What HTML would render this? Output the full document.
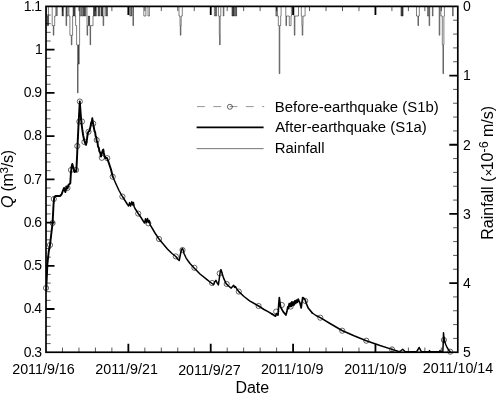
<!DOCTYPE html>
<html lang="en"><head><meta charset="utf-8"><title>Discharge and rainfall</title>
<style>html,body{margin:0;padding:0;background:#fff;}svg{display:block;}text{font-family:"Liberation Sans", Arial, sans-serif;fill:#000;}</style>
</head><body>
<svg width="497" height="393" viewBox="0 0 497 393">
<rect width="497" height="393" fill="#fff"/>
<defs><clipPath id="pa"><rect x="46" y="6.4" width="411.8" height="346.45"/></clipPath></defs>
<path d="M46 6.4 L46.6 6.4 L46.6 16.01 L47 16.01 L47 25.62 L47.6 25.62 L47.6 16.01 L48.1 16.01 L48.1 25.62 L48.5 25.62 L48.5 6.4 L52.2 6.4 L52.2 25.62 L53.3 25.62 L53.3 35.23 L53.8 35.23 L53.8 25.62 L54.7 25.62 L54.7 16.01 L55.8 16.01 L55.8 6.4 L56.9 6.4 L56.9 16.01 L56.95 16.01 L56.95 6.4 L62.1 6.4 L62.1 16.01 L62.6 16.01 L62.6 6.4 L62.8 6.4 L62.8 16.01 L63.3 16.01 L63.3 6.4 L66 6.4 L66 25.62 L66.6 25.62 L66.6 6.4 L66.8 6.4 L66.8 16.01 L67.9 16.01 L67.9 6.4 L68.9 6.4 L68.9 16.01 L69.9 16.01 L69.9 35.23 L71.3 35.23 L71.3 44.84 L71.9 44.84 L71.9 35.23 L72.6 35.23 L72.6 16.01 L73.2 16.01 L73.2 6.4 L73.4 6.4 L73.4 16.01 L74 16.01 L74 6.4 L74.2 6.4 L74.2 16.01 L74.8 16.01 L74.8 6.4 L75 6.4 L75 16.01 L75.6 16.01 L75.6 25.62 L76.6 25.62 L76.6 44.84 L77.5 44.84 L77.5 92.89 L78.1 92.89 L78.1 64.06 L78.5 64.06 L78.5 44.84 L78.7 44.84 L78.7 64.06 L79.2 64.06 L79.2 44.84 L79.6 44.84 L79.6 6.4 L80.2 6.4 L80.2 16.01 L81.2 16.01 L81.2 6.4 L81.8 6.4 L81.8 16.01 L82.8 16.01 L82.8 6.4 L83.3 6.4 L83.3 16.01 L83.9 16.01 L83.9 6.4 L84.2 6.4 L84.2 16.01 L84.8 16.01 L84.8 6.4 L85.1 6.4 L85.1 16.01 L85.8 16.01 L85.8 6.4 L87 6.4 L87 35.23 L87.6 35.23 L87.6 25.62 L88.4 25.62 L88.4 16.01 L88.8 16.01 L88.8 25.62 L89.2 25.62 L89.2 16.01 L89.6 16.01 L89.6 25.62 L90.1 25.62 L90.1 44.84 L90.6 44.84 L90.6 25.62 L93 25.62 L93 16.01 L93.6 16.01 L93.6 6.4 L93.8 6.4 L93.8 16.01 L94.4 16.01 L94.4 6.4 L94.7 6.4 L94.7 16.01 L95.3 16.01 L95.3 6.4 L95.6 6.4 L95.6 16.01 L96.4 16.01 L96.4 6.4 L98.2 6.4 L98.2 16.01 L98.8 16.01 L98.8 6.4 L99 6.4 L99 16.01 L99.6 16.01 L99.6 6.4 L101 6.4 L101 16.01 L101.6 16.01 L101.6 6.4 L101.8 6.4 L101.8 16.01 L102.4 16.01 L102.4 6.4 L102.6 6.4 L102.6 16.01 L103.1 16.01 L103.1 25.62 L103.7 25.62 L103.7 16.01 L104 16.01 L104 6.4 L105.7 6.4 L105.7 16.01 L106.4 16.01 L106.4 6.4 L106.8 6.4 L106.8 16.01 L107.5 16.01 L107.5 6.4 L129.8 6.4 L129.8 16.01 L130.8 16.01 L130.8 6.4 L131.3 6.4 L131.3 16.01 L131.9 16.01 L131.9 6.4 L132.9 6.4 L132.9 25.62 L133.5 25.62 L133.5 6.4 L143.8 6.4 L143.8 16.01 L145.9 16.01 L145.9 6.4 L148 6.4 L148 16.01 L149.4 16.01 L149.4 6.4 L179 6.4 L179 16.01 L180 16.01 L180 25.62 L180.3 25.62 L180.3 35.23 L180.9 35.23 L180.9 25.62 L181.2 25.62 L181.2 16.01 L182.3 16.01 L182.3 6.4 L214.4 6.4 L214.4 16.01 L215.3 16.01 L215.3 6.4 L215.8 6.4 L215.8 16.01 L216.5 16.01 L216.5 6.4 L218.4 6.4 L218.4 16.01 L219.3 16.01 L219.3 35.23 L219.6 35.23 L219.6 44.84 L220.2 44.84 L220.2 16.01 L220.8 16.01 L220.8 6.4 L223.3 6.4 L223.3 16.01 L223.9 16.01 L223.9 6.4 L232 6.4 L232 16.01 L232.6 16.01 L232.6 6.4 L232.8 6.4 L232.8 16.01 L233.4 16.01 L233.4 6.4 L233.6 6.4 L233.6 16.01 L234.2 16.01 L234.2 6.4 L234.8 6.4 L234.8 16.01 L235.7 16.01 L235.7 6.4 L236.1 6.4 L236.1 16.01 L236.6 16.01 L236.6 6.4 L275.9 6.4 L275.9 16.01 L276.8 16.01 L276.8 6.4 L277.3 6.4 L277.3 16.01 L278.3 16.01 L278.3 25.62 L279.2 25.62 L279.2 73.67 L279.8 73.67 L279.8 25.62 L280.7 25.62 L280.7 16.01 L281.1 16.01 L281.1 6.4 L285.8 6.4 L285.8 16.01 L285.9 16.01 L285.9 25.62 L286.5 25.62 L286.5 16.01 L289.3 16.01 L289.3 25.62 L291 25.62 L291 16.01 L291.4 16.01 L291.4 6.4 L294 6.4 L294 16.01 L294.3 16.01 L294.3 35.23 L294.9 35.23 L294.9 16.01 L298.5 16.01 L298.5 6.4 L301.3 6.4 L301.3 16.01 L301.9 16.01 L301.9 25.62 L302.2 25.62 L302.2 35.23 L302.8 35.23 L302.8 25.62 L303 25.62 L303 16.01 L305.1 16.01 L305.1 6.4 L401 6.4 L401 16.01 L401.6 16.01 L401.6 6.4 L401.8 6.4 L401.8 16.01 L402.4 16.01 L402.4 6.4 L402.5 6.4 L402.5 16.01 L403.1 16.01 L403.1 6.4 L416.5 6.4 L416.5 16.01 L417.9 16.01 L417.9 25.62 L418.5 25.62 L418.5 16.01 L419.3 16.01 L419.3 6.4 L427.5 6.4 L427.5 16.01 L428.6 16.01 L428.6 6.4 L429.1 6.4 L429.1 25.62 L429.7 25.62 L429.7 6.4 L432.4 6.4 L432.4 16.01 L433 16.01 L433 6.4 L439.2 6.4 L439.2 35.23 L439.8 35.23 L439.8 6.4 L440.9 6.4 L440.9 16.01 L442.3 16.01 L442.3 44.84 L442.9 44.84 L442.9 73.67 L443.5 73.67 L443.5 44.84 L443.9 44.84 L443.9 16.01 L444.4 16.01 L444.4 6.4 L452.6 6.4 L452.6 16.01 L453.2 16.01 L453.2 6.4 L457.8 6.4" fill="none" stroke="#000" stroke-width="0.5" stroke-linejoin="miter"/>
<path d="M62.47 352.25 v-4.7 M62.47 6.4 v4.7 M78.94 352.25 v-4.7 M78.94 6.4 v4.7 M95.42 352.25 v-4.7 M95.42 6.4 v4.7 M111.89 352.25 v-4.7 M111.89 6.4 v4.7 M144.83 352.25 v-4.7 M144.83 6.4 v4.7 M161.3 352.25 v-4.7 M161.3 6.4 v4.7 M177.78 352.25 v-4.7 M177.78 6.4 v4.7 M194.25 352.25 v-4.7 M194.25 6.4 v4.7 M227.19 352.25 v-4.7 M227.19 6.4 v4.7 M243.66 352.25 v-4.7 M243.66 6.4 v4.7 M260.14 352.25 v-4.7 M260.14 6.4 v4.7 M276.61 352.25 v-4.7 M276.61 6.4 v4.7 M309.55 352.25 v-4.7 M309.55 6.4 v4.7 M326.02 352.25 v-4.7 M326.02 6.4 v4.7 M342.5 352.25 v-4.7 M342.5 6.4 v4.7 M358.97 352.25 v-4.7 M358.97 6.4 v4.7 M391.91 352.25 v-4.7 M391.91 6.4 v4.7 M408.38 352.25 v-4.7 M408.38 6.4 v4.7 M424.86 352.25 v-4.7 M424.86 6.4 v4.7 M441.33 352.25 v-4.7 M441.33 6.4 v4.7 M46 343.6 h4.7 M46 334.96 h4.7 M46 326.31 h4.7 M46 317.67 h4.7 M46 300.37 h4.7 M46 291.73 h4.7 M46 283.08 h4.7 M46 274.43 h4.7 M46 257.14 h4.7 M46 248.49 h4.7 M46 239.85 h4.7 M46 231.2 h4.7 M46 213.91 h4.7 M46 205.26 h4.7 M46 196.62 h4.7 M46 187.97 h4.7 M46 170.68 h4.7 M46 162.03 h4.7 M46 153.39 h4.7 M46 144.74 h4.7 M46 127.45 h4.7 M46 118.8 h4.7 M46 110.15 h4.7 M46 101.51 h4.7 M46 84.22 h4.7 M46 75.57 h4.7 M46 66.92 h4.7 M46 58.28 h4.7 M46 40.99 h4.7 M46 32.34 h4.7 M46 23.69 h4.7 M46 15.05 h4.7 M457.8 20.23 h-4.7 M457.8 34.07 h-4.7 M457.8 47.9 h-4.7 M457.8 61.74 h-4.7 M457.8 89.4 h-4.7 M457.8 103.24 h-4.7 M457.8 117.07 h-4.7 M457.8 130.91 h-4.7 M457.8 158.57 h-4.7 M457.8 172.41 h-4.7 M457.8 186.24 h-4.7 M457.8 200.08 h-4.7 M457.8 227.74 h-4.7 M457.8 241.58 h-4.7 M457.8 255.41 h-4.7 M457.8 269.25 h-4.7 M457.8 296.91 h-4.7 M457.8 310.75 h-4.7 M457.8 324.58 h-4.7 M457.8 338.42 h-4.7" fill="none" stroke="#000" stroke-width="0.65"/>
<path d="M128.36 352.25 v-8.5 M128.36 6.4 v8.5 M210.72 352.25 v-8.5 M210.72 6.4 v8.5 M293.08 352.25 v-8.5 M293.08 6.4 v8.5 M375.44 352.25 v-8.5 M375.44 6.4 v8.5 M46 309.02 h8.5 M46 265.79 h8.5 M46 222.56 h8.5 M46 179.32 h8.5 M46 136.09 h8.5 M46 92.86 h8.5 M46 49.63 h8.5 M457.8 75.57 h-8.5 M457.8 144.74 h-8.5 M457.8 213.91 h-8.5 M457.8 283.08 h-8.5" fill="none" stroke="#000" stroke-width="1.8"/>
<g clip-path="url(#pa)" fill="none" stroke="#000" stroke-linejoin="round" stroke-linecap="round">
<path d="M46.2 289.5 L46.8 277 L47.4 264 L48.8 251 L50 245 L51.5 232 L52.6 223 L53.5 205 L54.2 197.5 L55.5 196 L60 196 L61.5 194.5 L63 190.5 L64 188 L65.3 192 L66.5 187 L67.5 188.5 L68.5 185 L70.3 183.2 L70.9 173 L71.6 166.5 L72.3 164 L73.2 167 L74.5 172 L75.5 170.5 L76.3 171 L77 158 L77.5 146 L78.5 125 L79.8 101.5 L80.4 110 L81 118 L81.6 124 L82.5 131 L83.3 136 L84.3 140.5 L85.3 143.5 L86 144.8 L86.6 142 L87.3 136.5 L87.8 133.3 L88.5 131.5 L89.3 131.2 L89.8 129.5 L90.5 126.5 L91.3 122.8 L92 120.8 L92.3 118.3 L92.6 121 L93.2 124 L94.5 131 L95.2 132.5 L95.6 136 L96.3 137.2 L96.7 141 L97.5 142.2 L98 146.5 L98.8 147.8 L99.4 151.5 L100.2 152.6 L101 156.5 L101.8 153.5 L102.6 150.8 L103.3 149.6 L103.8 153 L104.5 156 L105.5 158 L107 158 L108.5 162 L111 169.5 L112.7 176.5" stroke-width="1.95"/>
<path d="M112.7 176.5 L116 184 L119 190.5 L122.4 196.5 L125 200.5 L127.5 204.5 L128.6 206 L129.6 202.6 L130.6 206 L131.8 201.8 L132.8 205 L133.4 202.5 L134.2 206.8 L135 208.5 L138.2 213.5 L141 217.5 L143.5 221.5 L144.5 223 L145.5 218.8 L146.5 222.8 L147.5 218.5 L148.5 222.5 L149.2 220.5 L150.2 224.8 L155 233 L159 239 L167.4 249 L172 253.5 L175.8 256.5 L178 259.5 L179.2 260.5 L180.5 254 L181.5 249.5 L182.5 248.5 L183.2 250 L184 253.5 L186 257.8 L188 260.8 L190 263.5 L194.4 268.2 L200 274 L206.4 279.2 L210 282 L213.4 284.5 L214.7 282 L215.9 280.4 L217.2 283 L218.4 284.9 L219.5 277 L220.3 271.5 L221 269.6 L222 273 L223.5 277.9 L226.1 283.6 L228.5 286 L231.2 288.1 L232.5 286.5 L233.7 285.2 L234.6 287.4 L235.5 286.5 L236.5 288.5 L238.8 291.6 L244 296.5 L249.6 300.8 L258.6 306 L264 309.5 L268 311.6 L272 314" stroke-width="1.5"/>
<path d="M272 314 L275.5 316.2 L276.5 313.6 L278 315.2 L278.7 305 L279.3 297.5 L280 303 L280.6 307 L283.1 311.6 L285.9 315 L287 311 L287.8 306.8 L288.5 308.5 L289.2 303.5 L289.9 306.5 L290.6 303 L291.2 306.5 L291.9 301.8 L292.6 305.5 L293.3 302 L294 305 L294.8 300.8 L295.6 303.5 L296.4 300 L297.2 302.5 L298.2 299 L299.2 301.5 L300 303 L301.2 308 L302 302 L302.7 297.5 L304 298.5 L305.2 300 L306.5 304 L308.2 308 L312.3 313" stroke-width="1.7"/>
<path d="M312.3 313 L316 315.5 L320.3 317.7 L330 323.5 L342 330.5 L354 335.7 L366.3 340.7 L380 345.5 L392 349.4 L398 351.3 L400 351.5 L402.7 349.2 L405 351.5 L416.5 351.8 L419.2 347.5 L421.5 351.8 L429 351.8 L429.5 350.6 L430 351.8 L439.5 351.8 L440 350.4 L440.5 351.8 L442.8 351.8 L443.2 344 L443.5 332.7 L443.9 337 L444.6 341 L445.6 344.2 L446.8 346.8 L448 349 L449.3 350.8 L450.5 352.3" stroke-width="1.5"/>
</g>
<g fill="none" stroke="#000" stroke-width="0.6">
<circle cx="46" cy="288" r="2.6"/>
<circle cx="50" cy="245" r="2.6"/>
<circle cx="52.6" cy="223" r="2.6"/>
<circle cx="53.8" cy="199" r="2.6"/>
<circle cx="67.5" cy="188" r="2.6"/>
<circle cx="71" cy="170" r="2.6"/>
<circle cx="76" cy="170" r="2.6"/>
<circle cx="77.3" cy="146" r="2.6"/>
<circle cx="79.3" cy="121.6" r="2.6"/>
<circle cx="79.8" cy="101.5" r="2.6"/>
<circle cx="82" cy="121.5" r="2.6"/>
<circle cx="84.4" cy="142" r="2.6"/>
<circle cx="88.5" cy="131.8" r="2.6"/>
<circle cx="93.2" cy="123.6" r="2.6"/>
<circle cx="96.7" cy="140" r="2.6"/>
<circle cx="101.8" cy="157.8" r="2.6"/>
<circle cx="107.3" cy="158.2" r="2.6"/>
<circle cx="112.7" cy="176.7" r="2.6"/>
<circle cx="122.4" cy="196.6" r="2.6"/>
<circle cx="138.2" cy="213.6" r="2.6"/>
<circle cx="148.3" cy="223.3" r="2.6"/>
<circle cx="159" cy="239" r="2.6"/>
<circle cx="175.8" cy="256.4" r="2.6"/>
<circle cx="182.5" cy="250" r="2.6"/>
<circle cx="194.4" cy="267.8" r="2.6"/>
<circle cx="212.1" cy="283" r="2.6"/>
<circle cx="219.7" cy="273.4" r="2.6"/>
<circle cx="226.7" cy="284" r="2.6"/>
<circle cx="238.8" cy="291.6" r="2.6"/>
<circle cx="258.6" cy="306" r="2.6"/>
<circle cx="276.2" cy="311.6" r="2.6"/>
<circle cx="281.8" cy="305" r="2.6"/>
<circle cx="290.6" cy="306.6" r="2.6"/>
<circle cx="305.2" cy="300.9" r="2.6"/>
<circle cx="320.3" cy="317.7" r="2.6"/>
<circle cx="342.2" cy="330.7" r="2.6"/>
<circle cx="366.3" cy="340.7" r="2.6"/>
<circle cx="392" cy="349.4" r="2.6"/>
<circle cx="443.9" cy="340" r="2.6"/>
<circle cx="450.2" cy="351.7" r="2.6"/>
</g>
<rect x="46" y="6.4" width="411.8" height="345.85" fill="none" stroke="#000" stroke-width="1.7"/>
<path d="M197 106.6 H264.2" fill="none" stroke="#777" stroke-width="0.8" stroke-dasharray="7.8 8.5"/>
<circle cx="229.9" cy="106.8" r="2.5" fill="none" stroke="#000" stroke-width="0.6"/>
<path d="M196.6 127.4 H263.6" fill="none" stroke="#000" stroke-width="1.6"/>
<path d="M196.6 148.65 H263.6" fill="none" stroke="#000" stroke-width="0.55"/>
<g font-size="14.9">
<text x="274.8" y="111.6">Before-earthquake (S1b)</text>
<text x="275.2" y="131.8">After-earthquake (S1a)</text>
<text x="274.8" y="153.1">Rainfall</text>
</g>
<g font-size="14">
<text x="41.6" y="356.55" text-anchor="end" letter-spacing="-0.5">0.3</text>
<text x="41.6" y="313.32" text-anchor="end" letter-spacing="-0.5">0.4</text>
<text x="41.6" y="270.09" text-anchor="end" letter-spacing="-0.5">0.5</text>
<text x="41.6" y="226.86" text-anchor="end" letter-spacing="-0.5">0.6</text>
<text x="41.6" y="183.62" text-anchor="end" letter-spacing="-0.5">0.7</text>
<text x="41.6" y="140.39" text-anchor="end" letter-spacing="-0.5">0.8</text>
<text x="41.6" y="97.16" text-anchor="end" letter-spacing="-0.5">0.9</text>
<text x="42.4" y="53.93" text-anchor="end" letter-spacing="-0.5">1</text>
<text x="41.6" y="10.7" text-anchor="end" letter-spacing="-0.5">1.1</text>
<text x="463.1" y="10.7">0</text>
<text x="463.1" y="80.37">1</text>
<text x="463.1" y="149.84">2</text>
<text x="463.1" y="219.21">3</text>
<text x="463.1" y="287.68">4</text>
<text x="463.1" y="356.8">5</text>
<text x="43.5" y="373.7" font-size="14.3" text-anchor="middle">2011/9/16</text>
<text x="126.6" y="373.6" font-size="14.3" text-anchor="middle">2011/9/21</text>
<text x="209.4" y="374.6" font-size="14.3" text-anchor="middle">2011/9/27</text>
<text x="292.2" y="374.3" font-size="14.3" text-anchor="middle">2011/10/9</text>
<text x="375.4" y="373.7" font-size="14.3" text-anchor="middle">2011/10/9</text>
<text x="458" y="372.6" font-size="14.3" text-anchor="middle">2011/10/14</text>
</g>
<text x="252.3" y="393.2" font-size="16" text-anchor="middle">Date</text>
<text transform="translate(12.8 179.1) rotate(-90)" font-size="16" letter-spacing="-0.25" text-anchor="middle"><tspan font-style="italic">Q</tspan> (m<tspan font-size="11.5" dy="-4.5">3</tspan><tspan dy="4.5">/s)</tspan></text>
<text transform="translate(492.6 172.8) rotate(-90)" font-size="16" text-anchor="middle">Rainfall (<tspan font-size="13.5">×</tspan><tspan dx="-1.6">10</tspan><tspan font-size="12.5" dy="-5">-6</tspan><tspan dy="5"> m/s)</tspan></text>
</svg>
</body></html>
